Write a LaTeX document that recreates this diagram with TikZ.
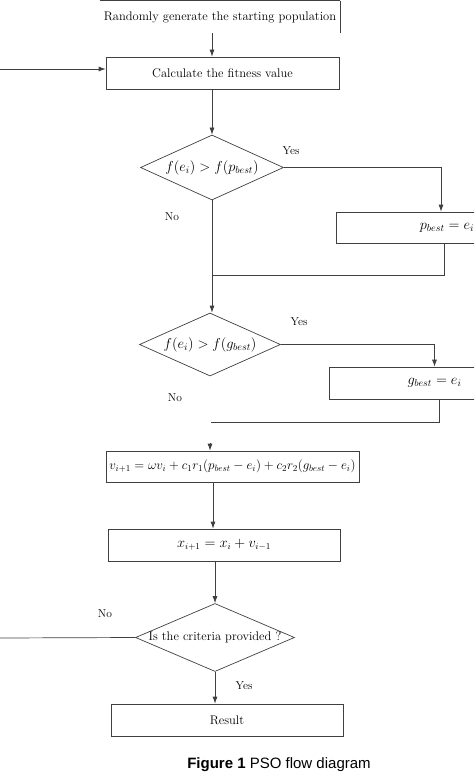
\documentclass[tikz,border=0pt]{standalone}
\usepackage{fontspec}
\newfontfamily\capfont{Liberation Sans}
\usetikzlibrary{arrows.meta,shapes.geometric,positioning}

\tikzset{
    process/.style={draw, rectangle, minimum height=32pt, inner sep=1pt},
    decision/.style={draw, diamond, inner sep=0pt},
    lbl/.style={font=\fontsize{11.5}{13}\selectfont},
    bigmath/.style={font=\fontsize{14.5}{16}\selectfont}
}
\newcommand{\nowidth}[1]{\makebox[0pt]{#1}}

\begin{document}
\begin{tikzpicture}[x=1pt, y=-1pt, >={Latex[length=7pt,width=5pt]}, line width=0.7pt, draw=black!75,
    every node/.style={font=\fontsize{12.5}{14}\selectfont}]
    \clip (0,0) rectangle (474,778);

    % Nodes {start, fit, d1, pbest, d2, gbest, vel, pos, d3, res}
    \node [minimum width=240pt, minimum height=32pt, inner sep=0pt] (start) at (220,17) {Randomly generate the starting population};
    \node [process, minimum width=233pt]  (fit)   at (222.5,73)  {Calculate the fitness value};
    \node [decision, bigmath, minimum width=143pt, minimum height=65pt] (d1) at (212,167.5) {\nowidth{$f(e_i) > f(p_{best})$}};
    \node [process, bigmath, minimum width=222pt, minimum height=31pt]  (pbest) at (447,227.5) {$p_{best} = e_i$};
    \node [decision, bigmath, minimum width=141pt, minimum height=63pt] (d2) at (210,344.5) {\nowidth{$f(e_i) > f(g_{best})$}};
    \node [process, bigmath, minimum width=211pt]  (gbest) at (434.5,383) {$g_{best} = e_i$};
    \node [process, bigmath, minimum width=253pt, minimum height=31pt]  (vel) at (232.5,466.5) {\nowidth{\resizebox{246pt}{!}{$v_{i+1} = \omega v_i + c_1 r_1 (p_{best} - e_i) + c_2 r_2 (g_{best} - e_i)$}}};
    \node [process, font=\fontsize{13.5}{15}\selectfont, minimum width=232pt]  (pos)   at (224,545)   {$x_{i+1} = x_i + v_{i-1}$};
    \node [decision, minimum width=159pt, minimum height=68pt] (d3) at (215,637.5) {\nowidth{Is the criteria provided ?}};
    \node [process, minimum width=232pt]  (res)   at (227,720)   {Result};

    % Labels
    \node [lbl] (y1) at (291,151) {Yes};
    \node [lbl] (n1) at (172,217) {No};
    \node [lbl] (y2) at (299,322) {Yes};
    \node [lbl] (n2) at (175,398) {No};
    \node [lbl] (n3) at (105,614) {No};
    \node [lbl] (y3) at (244,686) {Yes};
    \node [font=\capfont\fontsize{15}{17}\selectfont] (cap) at (279,765) {\textbf{Figure 1} PSO flow diagram};

    % Free ends
    \coordinate (loopin) at (0,69);
    \coordinate (j1)     at (212,275);
    \coordinate (j2)     at (211,422);
    \coordinate (stub)   at (210,443);
    \coordinate (exit)   at (0,638);

    % Paths
    \draw [line width=1.6pt] (start.north west) -- (start.north east);
    \draw (start.north east) -- (start.south east);
    \draw [->] ([xshift=-8pt]start.south) -- ([xshift=-8pt]start.south |- fit.north);
    \draw [->] (loopin) -- (loopin -| fit.west);
    \draw [->] (fit.south -| d1.north) -- (d1.north);
    \draw [->] (d1.east) -| ([xshift=-6pt]pbest.north);
    \draw      ([xshift=-3pt]pbest.south) |- (j1);
    \draw [->] (d1.south) -- (d1.south |- d2.north);
    \draw [->] (d2.east) -| (gbest.north);
    \draw      ([xshift=4.5pt]gbest.south) |- (j2);
    \draw [->] (stub) -- (stub |- vel.north);
    \draw [->] ([xshift=-19.5pt]vel.south) -- ([xshift=-19.5pt]vel.south |- pos.north);
    \draw [->] (pos.south -| d3.north) -- (d3.north);
    \draw      (d3.west) -- (exit);
    \draw [->] (d3.south) -- (d3.south |- res.north);
\end{tikzpicture}
\end{document}
